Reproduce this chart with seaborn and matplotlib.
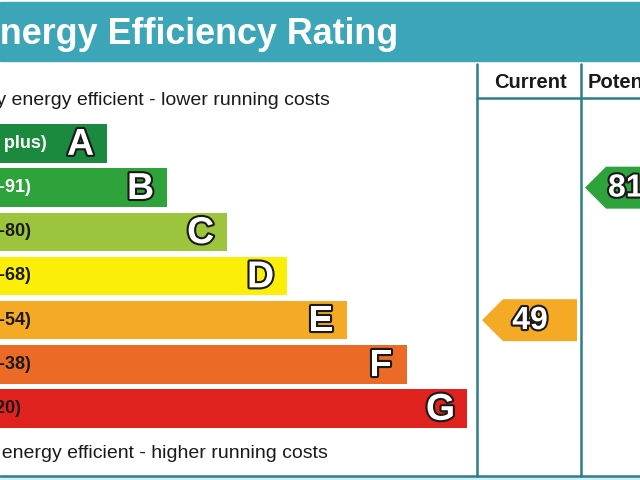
import pandas as pd
import seaborn as sns
import matplotlib.pyplot as plt
import matplotlib.patheffects as pe
from matplotlib.patches import Rectangle, Polygon
from matplotlib.transforms import blended_transform_factory

# EPC bands
bands = ['A', 'B', 'C', 'D', 'E', 'F', 'G']
band_ranges = ['(92 plus)', '(81-91)', '(69-80)', '(55-68)', '(39-54)', '(21-38)', '(1-20)']
band_lower = [92, 81, 69, 55, 39, 21, 1]
band_length = [3, 4, 5, 6, 7, 8, 9]
band_colors = ['#1b8a3e', '#2ea23b', '#9cc43c', '#fbee08', '#f4aa24', '#ea6a26', '#e0221e']
range_text_colors = ['white', 'white', '#1a1a1a', '#1a1a1a', '#1a1a1a', '#1a1a1a', '#1a1a1a']

current_rating = 49
potential_rating = 81

teal = '#3ca6b8'
frame = '#2f7d8a'


def band_of(rating):
    for i, lo in enumerate(band_lower):
        if rating >= lo:
            return i
    return len(bands) - 1


sns.set_theme(style='white')
plt.rcParams['font.family'] = ['Liberation Sans', 'DejaVu Sans']

fig = plt.figure(figsize=(6.4, 4.8), dpi=100)

# background axes in pixel units
ax = fig.add_axes([0, 0, 1, 1])
ax.set_xlim(0, 640)
ax.set_ylim(480, 0)
ax.axis('off')

# title banner
ax.add_patch(Rectangle((0, 2), 640, 59, color=teal, zorder=1))
ax.text(398, 44, 'Energy Efficiency Rating', ha='right', va='baseline',
        color='white', fontsize=25.8, fontweight='bold')

# table frame
ax.plot([477, 477], [64, 476], color=frame, lw=1.8)
ax.plot([581, 581], [64, 476], color=frame, lw=1.8)
ax.plot([477, 640], [98, 98], color=frame, lw=1.8)
ax.plot([0, 640], [476, 476], color=frame, lw=1.8)
ax.add_patch(Rectangle((0, 477), 640, 3, color='#cdeff3'))
ax.text(530, 88, 'Current', ha='center', va='baseline', fontsize=14.5, fontweight='bold', color='#1a1a1a')
ax.text(588, 88, 'Potential', ha='left', va='baseline', fontsize=14.5, fontweight='bold', color='#1a1a1a')

ax.text(330, 105, 'Very energy efficient - lower running costs', ha='right', va='baseline',
        fontsize=14, color='#1a1a1a')
ax.text(328, 458, 'Not energy efficient - higher running costs', ha='right', va='baseline',
        fontsize=14, color='#1a1a1a')

# bars axes: 60 px per length unit, zero 73 px left of the picture
bar_ax = fig.add_axes([0, 1 - 430.6 / 480, 1, 309.2 / 480])
df = pd.DataFrame({'band': bands, 'length': band_length})
sns.barplot(data=df, x='length', y='band', hue='band', palette=band_colors,
            saturation=1, width=0.87, linewidth=0, legend=False, ax=bar_ax)
x0 = 73 / 60
bar_ax.set_xlim(x0, x0 + 640 / 60)
bar_ax.set_ylim(6.5, -0.5)
bar_ax.axis('off')
bar_ax.patch.set_alpha(0)

outline = [pe.withStroke(linewidth=3, foreground='#1a1a1a')]
for i, (b, r, L) in enumerate(zip(bands, band_ranges, band_length)):
    bar_ax.text(L - 0.44, i + 0.03, b, ha='center', va='center', fontsize=27,
                fontweight='bold', color='white', path_effects=outline)
    bar_ax.text(x0 - 27 / 60, i, r, ha='left', va='center', fontsize=13,
                fontweight='bold', color=range_text_colors[i], clip_on=False)

# rating arrows: x in pixels, y in band units
trans = blended_transform_factory(ax.transData, bar_ax.transData)
h = 0.475


def arrow(rating, tip, right, text_x, ha):
    i = band_of(rating)
    pts = [(tip, i), (tip + 21, i - h), (right, i - h), (right, i + h), (tip + 21, i + h)]
    bar_ax.add_patch(Polygon(pts, closed=True, color=band_colors[i], transform=trans,
                             clip_on=False, linewidth=0))
    bar_ax.text(text_x, i + 0.02, str(rating), ha=ha, va='center', transform=trans,
                fontsize=23, fontweight='bold', color='white', path_effects=outline,
                clip_on=False)


arrow(current_rating, 482, 577, 530, 'center')
arrow(potential_rating, 585, 680, 608, 'left')

fig.savefig('out.png', dpi=100)
